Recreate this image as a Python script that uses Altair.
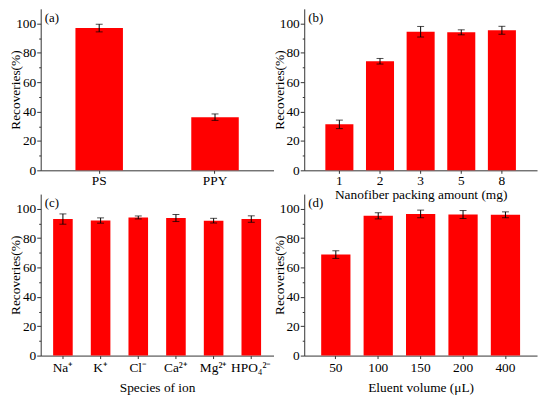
import pandas as pd
import altair as alt

SERIF = "Liberation Serif"

# (a) adsorbent
a_cat = ["PS", "PPY"]
a_val = [96.9, 36.2]
a_err = [2.6, 2.2]

# (b) nanofiber packing amount (mg)
b_cat = ["1", "2", "3", "5", "8"]
b_val = [31.3, 74.3, 94.4, 94.0, 95.4]
b_err = [2.9, 1.9, 3.6, 1.7, 2.7]

# (c) species of ion
c_cat = ["Na⁺", "K⁺", "Cl⁻", "Ca²⁺", "Mg²⁺", "HPO₄²⁻"]
c_val = [93.0, 92.0, 94.1, 93.7, 91.9, 93.0]
c_err = [3.5, 1.8, 1.0, 2.4, 1.6, 2.2]

# (d) eluent volume (uL)
d_cat = ["50", "100", "150", "200", "400"]
d_val = [68.8, 95.2, 96.5, 96.1, 95.9]
d_err = [2.6, 2.1, 2.6, 2.7, 2.0]


def panel(cats, vals, errs, tag, xtitle, pad_in, pad_out, xlabel_pad, xtitle_pad):
    df = pd.DataFrame({"cat": cats, "val": vals, "err": errs})
    base = (
        alt.Chart(df)
        .transform_calculate(lo="datum.val - datum.err", hi="datum.val + datum.err")
        .encode(
            x=alt.X(
                "cat:N",
                sort=cats,
                title=xtitle,
                scale=alt.Scale(paddingInner=pad_in, paddingOuter=pad_out),
                axis=alt.Axis(labelAngle=0, labelPadding=xlabel_pad, titlePadding=xtitle_pad),
            )
        )
    )
    # major ticks every 20 with labels, minor ticks in between
    y_axis = alt.Axis(
        values=list(range(0, 101, 10)),
        tickCount=20,
        labelExpr="datum.value % 20 === 0 ? datum.label : ''",
        labelOverlap=False,
        tickSize={"condition": {"test": "datum.value % 20 === 0", "value": 4}, "value": 2},
        title="Recoveries(%)",
        titleX=-32,
        titleBaseline="top",
    )
    yscale = alt.Scale(domain=[0, 110], nice=False)
    bars = base.mark_bar(color="#ff0000").encode(
        y=alt.Y("val:Q", scale=yscale, axis=y_axis)
    )
    rules = base.mark_rule(color="black", strokeWidth=1).encode(y="lo:Q", y2="hi:Q")
    cap_hi = base.mark_tick(color="black", size=7, thickness=1).encode(y="hi:Q")
    cap_lo = base.mark_tick(color="black", size=7, thickness=1).encode(y="lo:Q")
    label = (
        alt.Chart(pd.DataFrame({"t": [tag]}))
        .mark_text(align="left", baseline="middle", font=SERIF, fontSize=13)
        .encode(x=alt.value(4), y=alt.value(9), text="t:N")
    )
    return alt.layer(bars, rules, cap_hi, cap_lo, label).properties(width=235, height=163)


pa = panel(a_cat, a_val, a_err, "(a)", None, 0.59, 0.3, 0, 1)
pb = panel(b_cat, b_val, b_err, "(b)", "Nanofiber packing amount (mg)", 0.31, 0.52, 0, 1)
pc = panel(c_cat, c_val, c_err, "(c)", "Species of ion", 0.48, 0.33, 2, 7)
pd_ = panel(d_cat, d_val, d_err, "(d)", "Eluent volume (μL)", 0.31, 0.4, 2, 7)

chart = (
    alt.concat(pa, pb, pc, pd_, columns=2, spacing={"row": 24, "column": 31}, bounds="flush")
    .properties(padding={"left": 0, "top": -2, "right": 4, "bottom": 4})
    .configure_view(stroke="transparent")
    .configure_axis(
        grid=False,
        labelFont=SERIF,
        titleFont=SERIF,
        labelFontSize=13.5,
        titleFontSize=13.5,
        titleFontWeight="normal",
        labelColor="black",
        titleColor="black",
        domainColor="#333333",
        tickColor="#333333",
        tickSize=3,
        labelPadding=1,
        labelOverlap=False,
    )
)

chart.save("out.html", embed_options={"renderer": "svg", "actions": False})
